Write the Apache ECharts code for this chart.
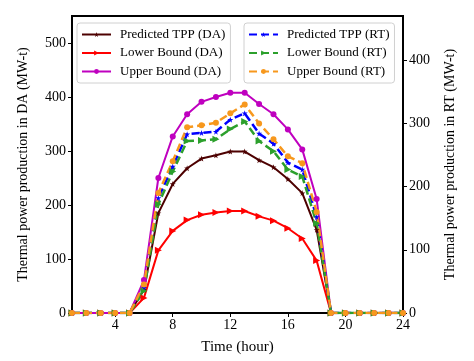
<!DOCTYPE html>
<html>
<head>
<meta charset="utf-8">
<script src="https://cdn.jsdelivr.net/npm/echarts@6/dist/echarts.min.js"></script>
<style>html,body{margin:0;padding:0;background:#fff;}#c{width:474px;height:361px;}</style>
</head>
<body>
<div id="c"></div>
<script>
const hours = [1,2,3,4,5,6,7,8,9,10,11,12,13,14,15,16,17,18,19,20,21,22,23,24];
const predictedDA = [0,0,0,0,0,43,185,239,268,286,292,299,299,283,270,248,222,154,0,0,0,0,0,0];
const lowerDA     = [0,0,0,0,0,28,116,152,172,182,186,189,189,179,171,157,138,97,0,0,0,0,0,0];
const upperDA     = [0,0,0,0,0,61,250,327,368,391,400,408,408,387,368,340,303,211,0,0,0,0,0,0];
const predictedRT = [0,0,0,0,0,40,182,232,283,285,287,306,316,284,268,238,227,152,0,0,0,0,0,0];
const lowerRT     = [0,0,0,0,0,35,172,224,272,273,275,291,303,272,256,227,216,142,0,0,0,0,0,0];
const upperRT     = [0,0,0,0,0,45,190,240,294,297,301,316,330,300,275,248,237,160,0,0,0,0,0,0];
const xTicks = [4,8,12,16,20,24];
const leftTicks = [0,100,200,300,400,500];
const rightTicks = [0,100,200,300,400];

const STAR = 'path://M50,0 L61,35 L98,35 L68,57 L79,91 L50,70 L21,91 L32,57 L2,35 L39,35 Z';
const TRI_R = 'path://M0,0 L10,5 L0,10 Z';
const font = 'Liberation Serif, Times New Roman, serif';

function pairs(v){ return hours.map((h,i)=>[h, v[i]]); }
function mk(name, data, color, symbol, yIdx, dashed, size){
  return {
    name, type:'line', yAxisIndex:yIdx, data:pairs(data),
    symbol, symbolSize:size, showSymbol:true,
    lineStyle:{color, width: dashed?2.5:2, type: dashed?[8,4]:'solid'},
    itemStyle:{color, borderWidth:0},
    emphasis:{disabled:true}, animation:false, z:2
  };
}

const chart = echarts.init(document.getElementById('c'), null, {renderer:'canvas'});
const legendBase = {
  orient:'vertical', itemWidth:29, itemHeight:6, itemGap:5.5,
  padding:[5,5,5,4], borderColor:'#d0d0d0', borderWidth:1, borderRadius:3,
  backgroundColor:'rgba(255,255,255,0.85)',
  textStyle:{fontFamily:font, fontSize:13, color:'#000', padding:[0,0,0,4]}, selectedMode:false
};
chart.setOption({
  animation:false,
  grid:{left:72, right:71, top:16, bottom:48, show:true, borderColor:'#000', borderWidth:2},
  legend:[
    Object.assign({}, legendBase, {left:77, top:23, data:['Predicted TPP (DA)','Lower Bound (DA)','Upper Bound (DA)']}),
    Object.assign({}, legendBase, {left:244, top:23, data:['Predicted TPP (RT)','Lower Bound (RT)','Upper Bound (RT)']})
  ],
  xAxis:{
    type:'value', min:1, max:24,
    name:'Time (hour)', nameLocation:'middle', nameGap:27,
    nameTextStyle:{fontFamily:font, fontSize:15, color:'#000'},
    axisLine:{lineStyle:{color:'#000', width:2}},
    axisTick:{show:true, length:4, customValues:xTicks, lineStyle:{color:'#000', width:1}},
    axisLabel:{customValues:xTicks, fontFamily:font, fontSize:14, color:'#000', margin:5},
    splitLine:{show:false}
  },
  yAxis:[
    {
      type:'value', min:0, max:550, position:'left',
      name:'Thermal power production in DA (MW-t)', nameLocation:'middle', nameGap:42,
      nameTextStyle:{fontFamily:font, fontSize:14, color:'#000'},
      axisLine:{show:true, lineStyle:{color:'#000', width:2}},
      axisTick:{show:true, length:4, customValues:leftTicks, lineStyle:{color:'#000', width:1}},
      axisLabel:{customValues:leftTicks, fontFamily:font, fontSize:14, color:'#000', margin:6},
      splitLine:{show:false}
    },
    {
      type:'value', min:0, max:470, position:'right',
      name:'Thermal power production in RT (MW-t)', nameLocation:'middle', nameGap:40,
      nameRotate:90,
      nameTextStyle:{fontFamily:font, fontSize:14, color:'#000'},
      axisLine:{show:true, lineStyle:{color:'#000', width:2}},
      axisTick:{show:true, length:4, customValues:rightTicks, lineStyle:{color:'#000', width:1}},
      axisLabel:{customValues:rightTicks, fontFamily:font, fontSize:14, color:'#000', margin:6},
      splitLine:{show:false}
    }
  ],
  series:[
    mk('Predicted TPP (DA)', predictedDA, '#4d0000', STAR, 0, false, 6),
    mk('Lower Bound (DA)', lowerDA, '#ff0000', TRI_R, 0, false, 7),
    mk('Upper Bound (DA)', upperDA, '#bf00bf', 'circle', 0, false, 6),
    mk('Predicted TPP (RT)', predictedRT, '#0000ff', STAR, 1, true, 6),
    mk('Lower Bound (RT)', lowerRT, '#2ca02c', TRI_R, 1, true, 7),
    mk('Upper Bound (RT)', upperRT, '#f7981d', 'circle', 1, true, 6)
  ]
});
</script>
</body>
</html>
